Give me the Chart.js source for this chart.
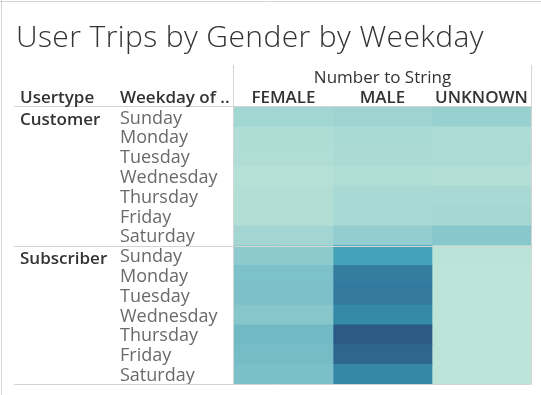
<!DOCTYPE html>
<html>
<head>
<meta charset="utf-8">
<script src="https://cdn.jsdelivr.net/npm/chart.js@4.4.1/dist/chart.umd.min.js"></script>
<style>
html,body{margin:0;padding:0;background:#fff;}
#wrap{position:relative;width:541px;height:395px;}
</style>
</head>
<body>
<div id="wrap"><canvas id="c" width="541" height="395"></canvas></div>
<script>
const title = 'User Trips by Gender by Weekday';
const usertypes = ['Customer', 'Subscriber'];
const weekdays = ['Sunday','Monday','Tuesday','Wednesday','Thursday','Friday','Saturday'];
const genders = ['FEMALE', 'MALE', 'UNKNOWN'];
const columnHeader = 'Number to String';
const rowHeaders = ['Usertype', 'Weekday of ..'];

// trips per weekday, per usertype and gender
const customerFemale  = [9800, 4900, 4700, 3100, 3900, 4100, 9500];
const customerMale    = [11500, 6800, 6600, 4800, 7600, 7400, 16100];
const customerUnknown = [14200, 5900, 6000, 3500, 7800, 9000, 20900];
const subscriberFemale  = [19000, 25600, 25800, 21000, 31200, 28500, 26500];
const subscriberMale    = [47500, 71000, 73000, 63500, 95000, 85500, 64000];
const subscriberUnknown = [600, 500, 550, 450, 520, 480, 400];

const palette = ['#bce4d8','#aedcd5','#a1d5d2','#95cecf','#89c8cc','#7ec1ca','#72bac6','#66b2c2','#59acbe','#4ba5ba','#419eb6','#3b96b2','#358ead','#3586a7','#347ea1','#32779b','#316f96','#2f6790','#2d608a','#2c5985'];

const valuesByGender = [
  customerFemale.concat(subscriberFemale),
  customerMale.concat(subscriberMale),
  customerUnknown.concat(subscriberUnknown)
];
const rowLabels = usertypes.flatMap(() => weekdays);
const all = valuesByGender.flat();
const vMin = Math.min(...all), vMax = Math.max(...all);

function hex(h){return [1,3,5].map(i=>parseInt(h.substr(i,2),16));}
function colorFor(v){
  const t = (v - vMin) / (vMax - vMin) * (palette.length - 1);
  const i = Math.min(Math.floor(t), palette.length - 2);
  const f = t - i;
  const a = hex(palette[i]), b = hex(palette[i+1]);
  const c = a.map((x,k)=>Math.round(x + (b[k]-x)*f));
  return 'rgb(' + c.join(',') + ')';
}

const FONT = '"Open Sans", "Noto Sans", sans-serif';
const LINE = '#d4d4d4';

const decor = {
  id: 'decor',
  afterDraw(chart) {
    const ctx = chart.ctx;
    const ys = chart.scales.y, xs = chart.scales.x;
    const area = chart.chartArea;
    const left = 14;
    ctx.save();
    // frame
    ctx.strokeStyle = LINE; ctx.lineWidth = 1;
    ctx.beginPath();
    ctx.moveTo(0, 1.5); ctx.lineTo(541, 1.5);
    ctx.moveTo(1.5, 0); ctx.lineTo(1.5, 395);
    ctx.stroke();
    // title
    ctx.fillStyle = '#333';
    ctx.font = '300 30px ' + FONT;
    ctx.textBaseline = 'alphabetic';
    ctx.textAlign = 'left';
    ctx.letterSpacing = '0.4px';
    ctx.fillText(title, 16, 47);
    ctx.letterSpacing = '0px';
    // grid lines
    const rowH = ys.getPixelForValue(1) - ys.getPixelForValue(0);
    const sep = Math.round(ys.getPixelForValue(weekdays.length) - rowH/2) + 0.5;
    const top = Math.round(area.top) - 0.5, bottom = Math.round(area.bottom) + 0.5;
    ctx.beginPath();
    ctx.moveTo(left, top); ctx.lineTo(area.right, top);
    ctx.moveTo(left, sep); ctx.lineTo(area.right, sep);
    ctx.moveTo(left, bottom); ctx.lineTo(area.right, bottom);
    ctx.moveTo(Math.round(area.left) - 0.5, 65); ctx.lineTo(Math.round(area.left) - 0.5, bottom);
    ctx.moveTo(Math.round(area.right) + 0.5, 65); ctx.lineTo(Math.round(area.right) + 0.5, bottom);
    ctx.stroke();
    // headers
    ctx.fillStyle = '#333';
    ctx.font = '17px ' + FONT;
    ctx.textAlign = 'center';
    ctx.fillText(columnHeader, (area.left + area.right)/2, 83);
    ctx.font = '600 17px ' + FONT;
    genders.forEach((g, i) => {
      ctx.fillText(g, xs.getPixelForValue(i + 0.5), 103);
    });
    ctx.textAlign = 'left';
    ctx.fillText(rowHeaders[0], 20, 103);
    ctx.fillText(rowHeaders[1], 120, 103);
    // usertype labels
    usertypes.forEach((u, i) => {
      ctx.fillText(u, 20, ys.getPixelForValue(i * weekdays.length) + 8.5);
    });
    ctx.restore();
  }
};

new Chart(document.getElementById('c'), {
  type: 'bar',
  data: {
    labels: rowLabels,
    datasets: genders.map((g, gi) => ({
      label: g,
      data: valuesByGender[gi].map(() => [gi, gi + 1]),
      backgroundColor: valuesByGender[gi].map(colorFor),
      borderWidth: 0,
      barPercentage: 1,
      categoryPercentage: 1,
      grouped: false
    }))
  },
  options: {
    indexAxis: 'y',
    responsive: false,
    animation: false,
    layout: { padding: { top: 107, bottom: 9, left: 120, right: 10 } },
    plugins: { legend: { display: false }, tooltip: { enabled: false } },
    scales: {
      x: { type: 'linear', min: 0, max: genders.length, display: false },
      y: {
        type: 'category',
        border: { display: false },
        grid: { display: false, drawTicks: false },
        ticks: {
          crossAlign: 'far', padding: 0, autoSkip: false, labelOffset: 1.5,
          color: '#6a6a6a',
          font: { family: FONT, size: 18 }
        },
        afterFit(scale) { scale.width = 114; }
      }
    }
  },
  plugins: [decor]
});
</script>
</body>
</html>
